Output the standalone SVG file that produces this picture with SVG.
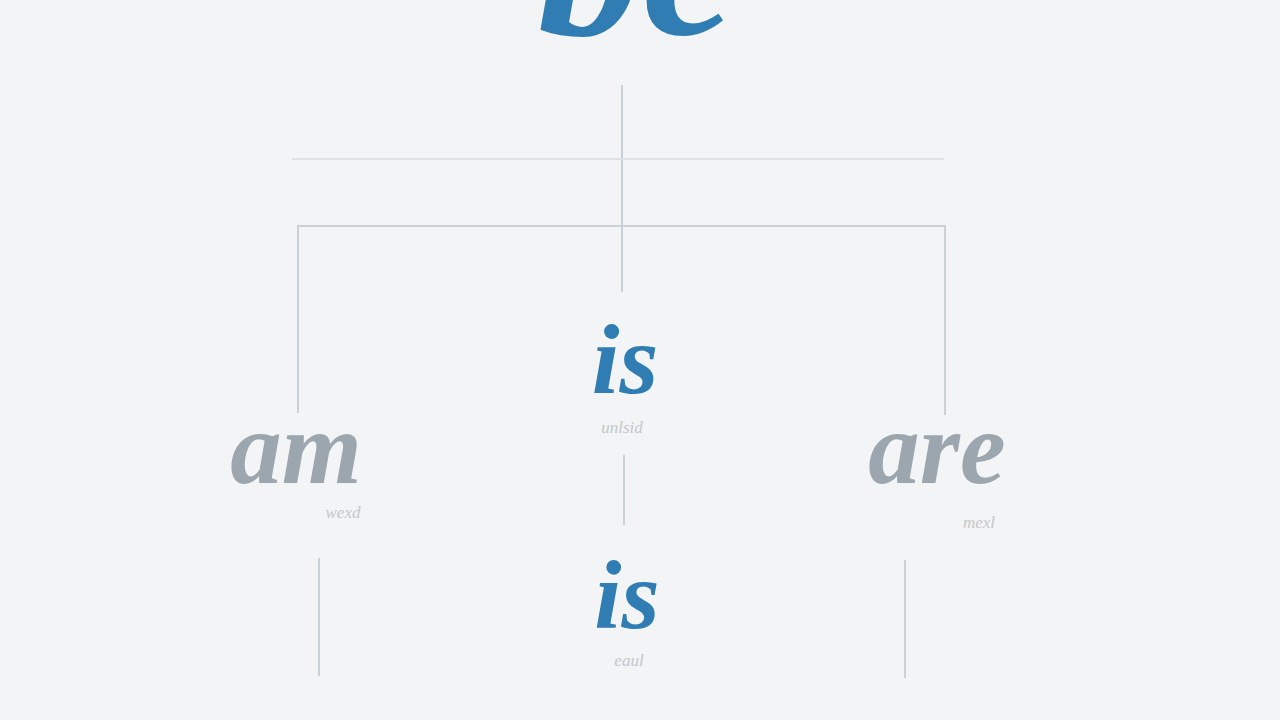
<svg xmlns="http://www.w3.org/2000/svg" width="1280" height="720" viewBox="0 0 1280 720">
<style>
.big{font-family:"Liberation Serif","DejaVu Serif",serif;font-weight:bold;font-style:italic;text-anchor:middle}
.blue{fill:#2f7db3}
.gray{fill:#9ba6ae}
.sub{font-family:"Liberation Serif","DejaVu Serif",serif;font-style:italic;font-size:17px;fill:#c3c7cb;text-anchor:middle}
.ln{stroke:#c9d0d6;stroke-width:2;fill:none}
.ln2{stroke:#dde2e6;stroke-width:2;fill:none}
</style>
<rect width="1280" height="720" fill="#f3f4f5"/>
<g id="connectors">
<line class="ln" x1="622" y1="85" x2="622" y2="292"/>
<line class="ln2" x1="292" y1="159" x2="944" y2="159"/>
<polyline class="ln" points="298,413 298,226 945,226 945,415"/>
<line class="ln" x1="624" y1="455" x2="624" y2="525"/>
<line class="ln" x1="319" y1="558" x2="319" y2="676"/>
<line class="ln" x1="905" y1="560" x2="905" y2="678"/>
</g>
<g id="node-be"><text class="big blue" x="636" y="34" font-size="208">be</text></g>
<g id="node-is1"><text class="big blue" x="625" y="393" font-size="100">is</text><text class="sub" x="622" y="433">unlsid</text></g>
<g id="node-am"><text class="big gray" x="296" y="483" font-size="103">am</text><text class="sub" x="343" y="518">wexd</text></g>
<g id="node-are"><text class="big gray" x="937" y="483" font-size="103">are</text><text class="sub" x="979" y="528">mexl</text></g>
<g id="node-is2"><text class="big blue" x="627" y="628" font-size="98">is</text><text class="sub" x="629" y="666">eaul</text></g>
</svg>
